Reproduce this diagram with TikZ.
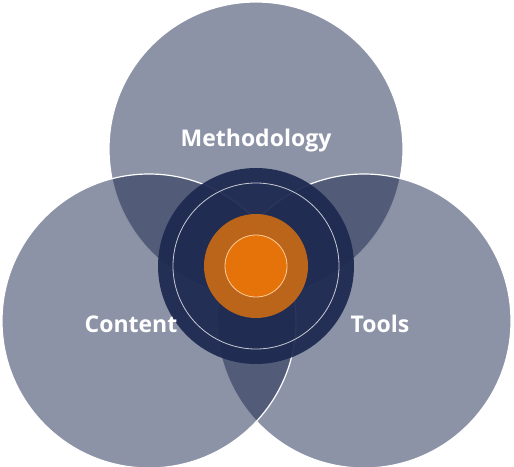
\documentclass[tikz,border=0pt]{standalone}
\usepackage{fontspec}
\setmainfont{Open Sans}
\usepackage{tikz}

\definecolor{navy}{RGB}{25,39,77}
\definecolor{hub}{RGB}{30,42,80}
\definecolor{rust}{RGB}{193,103,26}
\definecolor{flame}{RGB}{229,115,9}

\begin{document}
\begin{tikzpicture}[x=1pt, y=-1pt,
    venn/.style={circle, minimum size=294pt, inner sep=0pt, fill=navy, fill opacity=0.5, draw=white, draw opacity=1, line width=1.2pt},
    hubDisc/.style={circle, minimum size=196pt, inner sep=0pt, fill=hub, fill opacity=0.94},
    ring/.style={circle, minimum size=166pt, inner sep=0pt, draw=white, draw opacity=0.75, line width=0.8pt},
    core/.style={circle, minimum size=104pt, inner sep=0pt, fill=rust, fill opacity=0.97},
    spark/.style={circle, minimum size=62pt, inner sep=0pt, fill=flame, draw=orange!40!white, line width=0.8pt},
    tag/.style={text=white, font=\bfseries\fontsize{23}{26}\selectfont}
]

\useasboundingbox (0,0) rectangle (514,466);

% Venn circles
\node[venn] (methodology) at (256,149) {};
\node[venn] (tools) at (364,321) {};
\node[venn] (content) at (149,321) {};

% Centre target
\node[hubDisc] (hub) at (256,266) {};
\node[ring] (hubRing) at (hub.center) {};
\node[core] (core) at (hub.center) {};
\node[spark] (spark) at (hub.center) {};

% Labels
\node[tag] (methodologyLabel) at (256,141) {Methodology};
\node[tag] (contentLabel) at (131,324) {Content};
\node[tag] (toolsLabel) at (380,324) {Tools};

\end{tikzpicture}
\end{document}
